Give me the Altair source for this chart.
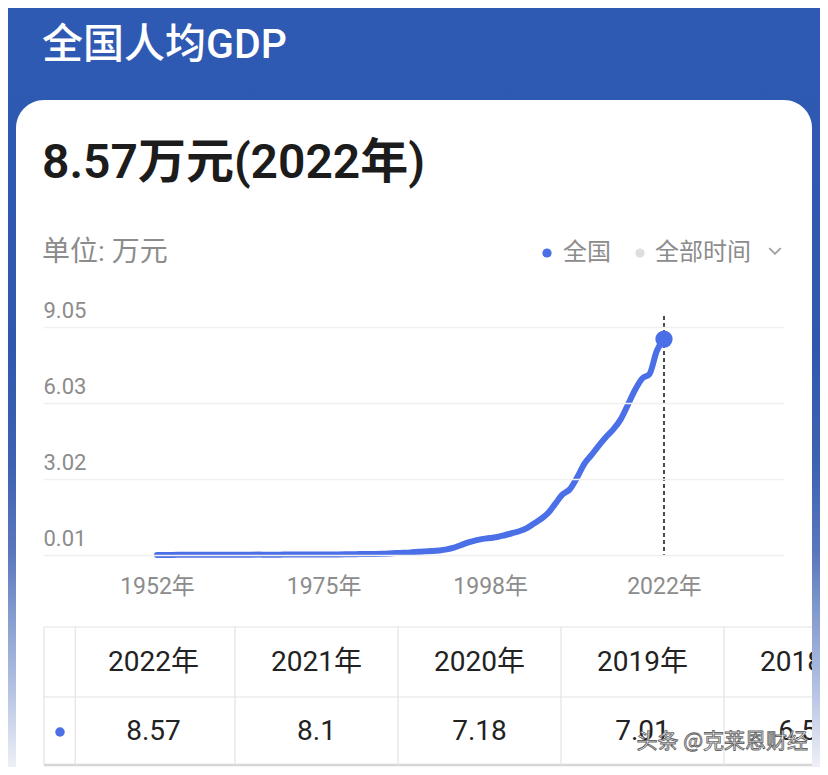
import altair as alt
import pandas as pd

# ---------------- data ----------------
years = list(range(1952, 2023))
gdp_wan = [
    0.0119, 0.0142, 0.0144, 0.0150, 0.0166, 0.0168, 0.0200, 0.0216, 0.0218, 0.0185,
    0.0173, 0.0181, 0.0208, 0.0242, 0.0257, 0.0238, 0.0224, 0.0245, 0.0279, 0.0290,
    0.0294, 0.0310, 0.0312, 0.0324, 0.0316, 0.0340, 0.0385, 0.0423, 0.0468, 0.0497,
    0.0533, 0.0588, 0.0702, 0.0866, 0.0973, 0.1123, 0.1378, 0.1536, 0.1663, 0.1912,
    0.2334, 0.3027, 0.4081, 0.5091, 0.5898, 0.6481, 0.6860, 0.7229, 0.7942, 0.8717,
    0.9506, 1.0666, 1.2487, 1.4368, 1.6738, 2.0494, 2.4100, 2.6180, 3.0808, 3.6277,
    3.9771, 4.3497, 4.6912, 4.9922, 5.3783, 5.9592, 6.5534, 7.0078, 7.1828, 8.0976,
    8.5698,
]
x_tick_years = [1952, 1975, 1998, 2022]
y_tick_values = [0.01, 3.02, 6.03, 9.05]
highlight_year = [2022]

table_years = ["2022年", "2021年", "2020年", "2019年", "2018年"]
table_values = ["8.57", "8.1", "7.18", "7.01", "6.55"]
table_col_index = [0, 1, 2, 3, 4]
table_borders = [-0.48, 0.5, 1.5, 2.5, 3.5]

df = pd.DataFrame({"year": years, "gdp": gdp_wan})
df_tab = pd.DataFrame({"i": table_col_index, "ylab": table_years, "vlab": table_values})
df_border = pd.DataFrame({"b": table_borders})
one = pd.DataFrame({"k": [0]})

BLUE = "#4a6fe6"
GRAY_TXT = "#8c8c8c"
CJK = "Roboto, Noto Sans CJK SC"

bg_grad = alt.Gradient(
    gradient="linear",
    stops=[
        alt.GradientStop(color="#2e5ab4", offset=0),
        alt.GradientStop(color="#2f58ad", offset=0.45),
        alt.GradientStop(color="#3d62b2", offset=0.6),
        alt.GradientStop(color="#5b78bd", offset=0.72),
        alt.GradientStop(color="#849ccf", offset=0.8),
        alt.GradientStop(color="#b5c3e3", offset=0.9),
        alt.GradientStop(color="#eef0f6", offset=1),
    ],
    x1=0, x2=0, y1=0, y2=1,
)

base1 = alt.Chart(one)

# background & card  (plot origin = page (43, 327))
bg = base1.mark_rect(color=bg_grad).encode(
    x=alt.value(-35), x2=alt.value(777), y=alt.value(-319), y2=alt.value(440)
)
card = base1.mark_rect(color="white", cornerRadius=28).encode(
    x=alt.value(-27), x2=alt.value(769), y=alt.value(-227), y2=alt.value(470)
)

title = base1.mark_text(text="全国人均GDP", font=CJK, fontSize=41, fontWeight=500,
                        color="white", align="left", baseline="alphabetic").encode(
    x=alt.value(-1), y=alt.value(-269))
big = base1.mark_text(text="8.57万元(2022年)", font=CJK, fontSize=48, fontWeight=600,
                      color="#1c1c1c", align="left", baseline="alphabetic").encode(
    x=alt.value(-1), y=alt.value(-149))
unit = base1.mark_text(text="单位: 万元", font=CJK, fontSize=28, color=GRAY_TXT,
                       align="left", baseline="middle").encode(
    x=alt.value(-1), y=alt.value(-74))
leg_dot1 = base1.mark_point(filled=True, size=85, color=BLUE, opacity=1).encode(
    x=alt.value(504), y=alt.value(-74))
leg_txt1 = base1.mark_text(text="全国", font=CJK, fontSize=24, color=GRAY_TXT,
                           align="left", baseline="middle").encode(
    x=alt.value(520), y=alt.value(-74))
leg_dot2 = base1.mark_point(filled=True, size=85, color="#dedede", opacity=1).encode(
    x=alt.value(597), y=alt.value(-74))
leg_txt2 = base1.mark_text(text="全部时间", font=CJK, fontSize=24, color=GRAY_TXT,
                           align="left", baseline="middle").encode(
    x=alt.value(612), y=alt.value(-74))
chevron = base1.mark_point(shape="M -1 -0.5 L 0 0.5 L 1 -0.5", filled=False, size=130,
                           strokeWidth=1.6, color="#9a9a9a", opacity=1).encode(
    x=alt.value(732), y=alt.value(-76))

# ---------------- main chart ----------------
xs = alt.Scale(domain=[1936.26, 2038.57], nice=False, zero=False)
ys = alt.Scale(domain=[0.01, 9.05], nice=False, zero=False)

line = alt.Chart(df).mark_line(color=BLUE, strokeWidth=6, interpolate="monotone",
                               strokeCap="round", strokeJoin="round").encode(
    x=alt.X("year:Q", scale=xs, title=None,
            axis=alt.Axis(values=x_tick_years, labelExpr="datum.value + '年'",
                          grid=False, domain=False, ticks=False, tickSize=0,
                          labelPadding=20, labelFontSize=23, labelColor=GRAY_TXT,
                          labelFont=CJK, labelFlush=False, labelOverlap=False, zindex=1)),
    y=alt.Y("gdp:Q", scale=ys, title=None,
            axis=alt.Axis(values=y_tick_values, format=".2f", grid=True,
                          gridColor="#f0f0f0", gridWidth=1.5, domain=False, ticks=False,
                          tickSize=0, labelAlign="left", labelBaseline="alphabetic",
                          labelOffset=-10, labelPadding=0, labelFlush=False,
                          labelOverlap=False, labelFontSize=22, labelColor=GRAY_TXT,
                          labelFont="Roboto", zindex=1)),
)
vrule = alt.Chart(pd.DataFrame({"year": highlight_year})).mark_rule(
    color="#4a4a4a", strokeDash=[4, 3], strokeWidth=2).encode(
    x=alt.X("year:Q", scale=xs), y=alt.value(-11), y2=alt.value(228))
pt = alt.Chart(df).transform_filter(alt.datum.year == highlight_year[0]).mark_point(
    filled=True, size=300, color=BLUE, opacity=1).encode(
    x=alt.X("year:Q", scale=xs), y=alt.Y("gdp:Q", scale=ys))

main = alt.layer(line, vrule, pt)

# ---------------- table ----------------
ts = alt.Scale(domain=[0, 4], range=[110.5, 762.5], nice=False, zero=False)
BORDER = "#e3e3e3"
hrule_top = base1.mark_rule(color=BORDER, strokeWidth=1.2).encode(
    x=alt.value(1), x2=alt.value(769), y=alt.value(300))
hrule_mid = base1.mark_rule(color=BORDER, strokeWidth=1.2).encode(
    x=alt.value(1), x2=alt.value(769), y=alt.value(370))
hrule_bot = base1.mark_rule(color="#d6d6d6", strokeWidth=2.5).encode(
    x=alt.value(1), x2=alt.value(769), y=alt.value(438))
vrule_left = base1.mark_rule(color=BORDER, strokeWidth=1.2).encode(
    x=alt.value(1), y=alt.value(300), y2=alt.value(438))
vborders = alt.Chart(df_border).mark_rule(color=BORDER, strokeWidth=1.2).encode(
    x=alt.X("b:Q", scale=ts, axis=None), y=alt.value(300), y2=alt.value(438))
head_txt = alt.Chart(df_tab).mark_text(font=CJK, fontSize=28, color="#222222",
                                       baseline="middle").encode(
    x=alt.X("i:Q", scale=ts, axis=None), y=alt.value(336), text="ylab:N")
val_txt = alt.Chart(df_tab).mark_text(font="Roboto", fontSize=28, color="#222222",
                                      baseline="middle").encode(
    x=alt.X("i:Q", scale=ts, axis=None), y=alt.value(405), text="vlab:N")
row_dot = base1.mark_point(filled=True, size=90, color=BLUE, opacity=1).encode(
    x=alt.value(17), y=alt.value(405))

table = alt.layer(vborders, head_txt, val_txt)

watermark = base1.mark_text(text="头条 @克莱恩财经", font="Noto Sans CJK SC", fontSize=21,
                            color="white", stroke="#666666", strokeWidth=0.9,
                            align="right", baseline="middle").encode(
    x=alt.value(765), y=alt.value(415))
strip = base1.mark_rect(color=bg_grad).encode(
    x=alt.value(769), x2=alt.value(777), y=alt.value(-319), y2=alt.value(440))

chart = alt.layer(
    bg, card, title, big, unit, leg_dot1, leg_txt1, leg_dot2, leg_txt2, chevron,
    main,
    hrule_top, hrule_mid, hrule_bot, vrule_left, table, row_dot,
    watermark, strip,
).resolve_scale(x="independent").properties(
    width=741, height=228,
    autosize=alt.AutoSizeParams(type="none"),
    padding={"left": 35, "top": 319, "right": 36, "bottom": 212},
).configure_view(stroke=None).configure(background="white")

chart.save("out.html", embed_options={"renderer": "svg", "actions": False})
